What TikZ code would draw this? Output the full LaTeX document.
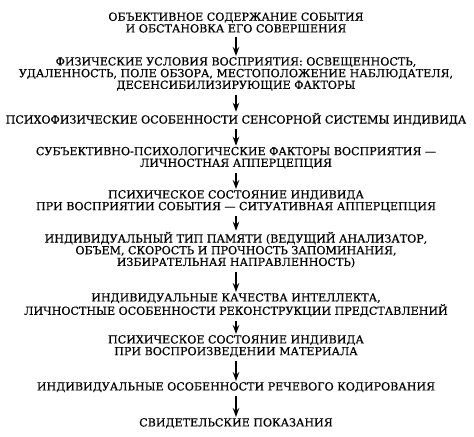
\documentclass[tikz,border=0pt]{standalone}
\usepackage{fontspec}
\setmainfont{DejaVu Serif}[FakeBold=0.6]
\usetikzlibrary{arrows.meta,positioning}
\begin{document}
\begin{tikzpicture}
\useasboundingbox (0,0) rectangle (474bp,-437bp);

\tikzstyle{stagenode} = [align=center,inner sep=0pt,anchor=north,font=\fontsize{11.1bp}{11.7bp}\selectfont];
\tikzstyle{flowarrow} = [-{Stealth[length=9bp,width=6.5bp]},line width=1.2bp,shorten <=4bp,shorten >=1bp];

\node [stagenode] (p1) at (236bp,-12.3bp) {ОБЪЕКТИВНОЕ СОДЕРЖАНИЕ СОБЫТИЯ\\И ОБСТАНОВКА ЕГО СОВЕРШЕНИЯ};
\node [stagenode] (p2) at (236bp,-57bp) {ФИЗИЧЕСКИЕ УСЛОВИЯ ВОСПРИЯТИЯ: ОСВЕЩЕННОСТЬ,\\УДАЛЕННОСТЬ, ПОЛЕ ОБЗОРА, МЕСТОПОЛОЖЕНИЕ НАБЛЮДАТЕЛЯ,\\ДЕСЕНСИБИЛИЗИРУЮЩИЕ ФАКТОРЫ};
\node [stagenode] (p3) at (236bp,-112.7bp) {ПСИХОФИЗИЧЕСКИЕ ОСОБЕННОСТИ СЕНСОРНОЙ СИСТЕМЫ ИНДИВИДА};
\node [stagenode] (p4) at (236bp,-146.7bp) {СУБЪЕКТИВНО-ПСИХОЛОГИЧЕСКИЕ ФАКТОРЫ ВОСПРИЯТИЯ —\\ЛИЧНОСТНАЯ АППЕРЦЕПЦИЯ};
\node [stagenode] (p5) at (236bp,-190bp) {ПСИХИЧЕСКОЕ СОСТОЯНИЕ ИНДИВИДА\\ПРИ ВОСПРИЯТИИ СОБЫТИЯ — СИТУАТИВНАЯ АППЕРЦЕПЦИЯ};
\node [stagenode] (p6) at (236bp,-231.7bp) {ИНДИВИДУАЛЬНЫЙ ТИП ПАМЯТИ (ВЕДУЩИЙ АНАЛИЗАТОР,\\ОБЪЕМ, СКОРОСТЬ И ПРОЧНОСТЬ ЗАПОМИНАНИЯ,\\ИЗБИРАТЕЛЬНАЯ НАПРАВЛЕННОСТЬ)};
\node [stagenode] (p7) at (236bp,-293bp) {ИНДИВИДУАЛЬНЫЕ КАЧЕСТВА ИНТЕЛЛЕКТА,\\ЛИЧНОСТНЫЕ ОСОБЕННОСТИ РЕКОНСТРУКЦИИ ПРЕДСТАВЛЕНИЙ};
\node [stagenode] (p8) at (236bp,-335bp) {ПСИХИЧЕСКОЕ СОСТОЯНИЕ ИНДИВИДА\\ПРИ ВОСПРОИЗВЕДЕНИИ МАТЕРИАЛА};
\node [stagenode] (p9) at (236bp,-382bp) {ИНДИВИДУАЛЬНЫЕ ОСОБЕННОСТИ РЕЧЕВОГО КОДИРОВАНИЯ};
\node [stagenode] (p10) at (236bp,-418bp) {СВИДЕТЕЛЬСКИЕ ПОКАЗАНИЯ};

\foreach \a/\b in {p1/p2,p2/p3,p3/p4,p4/p5,p5/p6,p6/p7,p7/p8,p8/p9,p9/p10}
  \draw [flowarrow] (\a.south) -- (\b.north);

\end{tikzpicture}
\end{document}
